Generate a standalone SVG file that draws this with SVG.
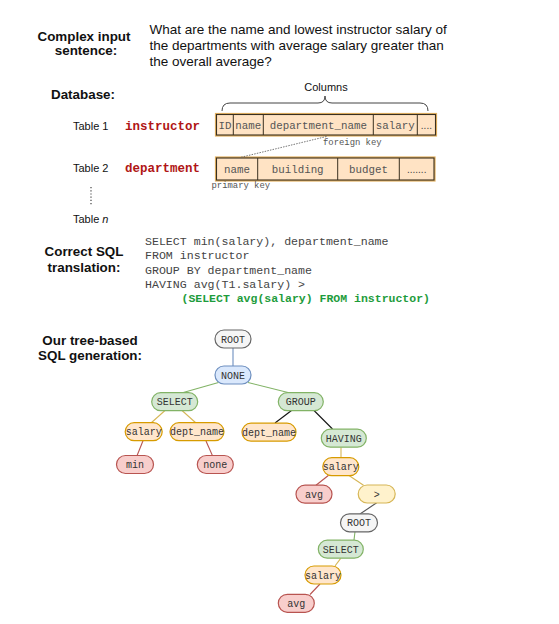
<svg xmlns="http://www.w3.org/2000/svg" width="559" height="624" viewBox="0 0 559 624">
<style>
.h{font-family:"Liberation Sans",Arial,sans-serif;font-weight:bold;font-size:13.4px;fill:#111;text-anchor:middle}
.q{font-family:"Liberation Sans",Arial,sans-serif;font-size:13.5px;fill:#111}
.lbl{font-family:"Liberation Sans",Arial,sans-serif;font-size:11px;fill:#111}
.tn{font-family:"Liberation Mono","Courier New",monospace;font-weight:bold;font-size:12.5px;fill:#b01515}
.col{font-family:"Liberation Mono","Courier New",monospace;font-size:10.8px;fill:#555;text-anchor:middle}
.dots{font-family:"Liberation Sans",Arial,sans-serif;font-size:10px;fill:#444;text-anchor:middle}
.key{font-family:"Liberation Mono","Courier New",monospace;font-size:8.9px;fill:#555}
.code{font-family:"Liberation Mono","Courier New",monospace;font-size:11.6px;fill:#444}
.codeg{font-family:"Liberation Mono","Courier New",monospace;font-size:11.5px;font-weight:bold;fill:#1e9c3c}
.tbl-o{fill:none;stroke:#e2b060;stroke-width:3.2}
.tbl{fill:#ffe3c4;stroke:#3a3020;stroke-width:1.1}
.div{stroke:#3a3020;stroke-width:1}
.n rect{stroke-width:1.2}
.n text{font-family:"Liberation Mono","Courier New",monospace;font-size:10px;fill:#333;text-anchor:middle}
.gray rect{fill:#f5f5f5;stroke:#666}
.blue rect{fill:#dae8fc;stroke:#6c8ebf}
.green rect{fill:#d5e8d4;stroke:#82b366}
.orange rect{fill:#ffe6cc;stroke:#d79b00}
.red rect{fill:#f8cecc;stroke:#b85450}
.yellow rect{fill:#fff2cc;stroke:#d6b656}
#edges line{stroke-width:1.1}
</style>
<rect width="559" height="624" fill="#fff"/>

<g id="headings">
<text class="h" x="84" y="41">Complex input</text>
<text class="h" x="86" y="55">sentence:</text>
<text class="h" x="83" y="98.5">Database:</text>
<text class="h" x="84" y="256">Correct SQL</text>
<text class="h" x="84" y="272">translation:</text>
<text class="h" x="90" y="345">Our tree-based</text>
<text class="h" x="90" y="359.5">SQL generation:</text>
</g>

<g id="question">
<text class="q" x="149.5" y="33.5">What are the name and lowest instructor salary of</text>
<text class="q" x="149.5" y="49.5">the departments with average salary greater than</text>
<text class="q" x="149.5" y="65.5">the overall average?</text>
</g>

<g id="database">
<text class="lbl" x="326" y="91" text-anchor="middle">Columns</text>
<path d="M222,111 Q222,103 230,103 L318,103 Q325,103 325,96 Q325,103 332,103 L420,103 Q428,103 428,111" fill="none" stroke="#444" stroke-width="1"/>
<text class="lbl" x="73" y="129.5">Table 1</text>
<text class="tn" x="125" y="129.5">instructor</text>
<text class="lbl" x="73" y="172">Table 2</text>
<text class="tn" x="125" y="172">department</text>
<line x1="91" y1="187" x2="91" y2="206" stroke="#444" stroke-width="1.2" stroke-dasharray="1.2,2"/>
<text class="lbl" x="73" y="223">Table <tspan font-style="italic">n</tspan></text>

<g id="table1">
<rect class="tbl-o" x="216.5" y="114.5" width="219" height="20.5"/>
<rect class="tbl" x="216.5" y="114.5" width="219" height="20.5"/>
<line class="div" x1="233.3" y1="114.5" x2="233.3" y2="135"/>
<line class="div" x1="263.3" y1="114.5" x2="263.3" y2="135"/>
<line class="div" x1="373.3" y1="114.5" x2="373.3" y2="135"/>
<line class="div" x1="417.3" y1="114.5" x2="417.3" y2="135"/>
<text class="col" x="225" y="128.5">ID</text>
<text class="col" x="248.3" y="128.5">name</text>
<text class="col" x="318.3" y="128.5">department_name</text>
<text class="col" x="395.3" y="128.5">salary</text>
<text class="dots" x="426.4" y="128.5">....</text>
</g>
<g id="table2">
<rect class="tbl-o" x="216.5" y="158" width="217.5" height="22"/>
<rect class="tbl" x="216.5" y="158" width="217.5" height="22"/>
<line class="div" x1="257.7" y1="158" x2="257.7" y2="180"/>
<line class="div" x1="337.7" y1="158" x2="337.7" y2="180"/>
<line class="div" x1="399.3" y1="158" x2="399.3" y2="180"/>
<text class="col" x="237" y="172.5">name</text>
<text class="col" x="297.7" y="172.5">building</text>
<text class="col" x="368.5" y="172.5">budget</text>
<text class="dots" x="416.7" y="172.5">.......</text>
</g>
<line x1="326.5" y1="136.5" x2="240" y2="157.5" stroke="#666" stroke-width="0.9" stroke-dasharray="1.5,1.2"/>
<text class="key" x="323" y="144.5">foreign key</text>
<text class="key" x="211.5" y="188">primary key</text>
</g>

<g id="sql">
<text class="code" x="145" y="244.5" xml:space="preserve">SELECT min(salary), department_name</text>
<text class="code" x="145" y="259">FROM instructor</text>
<text class="code" x="145" y="273.5">GROUP BY department_name</text>
<text class="code" x="145" y="287.7">HAVING avg(T1.salary) &gt;</text>
<text class="codeg" x="181.5" y="301.7">(SELECT avg(salary) FROM instructor)</text>
</g>

<g id="edges">
<line x1="233" y1="348" x2="233" y2="366" stroke="#6c8ebf"/>
<line x1="218.5" y1="382.5" x2="181.5" y2="393" stroke="#82b366"/>
<line x1="248" y1="382.5" x2="290" y2="393" stroke="#82b366"/>
<line x1="165" y1="410.5" x2="151" y2="423" stroke="#d6b656"/>
<line x1="182" y1="410.5" x2="196" y2="423" stroke="#d6b656"/>
<line x1="291.5" y1="410.5" x2="275" y2="423" stroke="#111"/>
<line x1="314" y1="410.5" x2="332.5" y2="429" stroke="#111"/>
<line x1="143" y1="440.7" x2="137" y2="455.7" stroke="#b85450"/>
<line x1="206" y1="441" x2="212.5" y2="455.7" stroke="#b85450"/>
<line x1="341" y1="447.3" x2="341" y2="457.7" stroke="#d6b656"/>
<line x1="328.3" y1="475.5" x2="316" y2="485.3" stroke="#b85450"/>
<line x1="349" y1="475.5" x2="363.5" y2="485.3" stroke="#d6b656"/>
<line x1="376.7" y1="502.8" x2="360" y2="514" stroke="#555"/>
<line x1="355" y1="531.7" x2="354" y2="540" stroke="#82b366"/>
<line x1="340.7" y1="558.3" x2="335" y2="566" stroke="#d6b656"/>
<line x1="320" y1="584" x2="310" y2="594.5" stroke="#b85450"/>
</g>

<g id="root1" class="n gray"><rect x="215" y="330" width="36" height="18" rx="9"/><text x="233" y="342.5">ROOT</text></g>
<g id="none1" class="n blue"><rect x="215" y="366" width="36" height="18" rx="9"/><text x="233" y="378.5">NONE</text></g>
<g id="select1" class="n green"><rect x="151.7" y="392.7" width="46" height="18" rx="9"/><text x="174.7" y="405.2">SELECT</text></g>
<g id="group" class="n green"><rect x="278.3" y="392.7" width="45" height="18" rx="9"/><text x="300.8" y="405.2">GROUP</text></g>
<g id="salary1" class="n orange"><rect x="125.2" y="422.7" width="37" height="18" rx="9"/><text x="143.7" y="435.2">salary</text></g>
<g id="dept1" class="n orange"><rect x="170" y="422.7" width="54" height="18" rx="9"/><text x="197" y="435.2">dept_name</text></g>
<g id="dept2" class="n orange"><rect x="242" y="423.2" width="54" height="18" rx="9"/><text x="269" y="435.7">dept_name</text></g>
<g id="having" class="n green"><rect x="321.3" y="429.2" width="45" height="18" rx="9"/><text x="343.8" y="441.7">HAVING</text></g>
<g id="min" class="n red"><rect x="116.5" y="455.5" width="37" height="18" rx="9"/><text x="135" y="468">min</text></g>
<g id="none2" class="n red"><rect x="197.3" y="455.5" width="36" height="18" rx="9"/><text x="215.3" y="468">none</text></g>
<g id="salary2" class="n orange"><rect x="322.8" y="457.7" width="36" height="18" rx="9"/><text x="340.8" y="470.2">salary</text></g>
<g id="avg1" class="n red"><rect x="296" y="485.2" width="36" height="18" rx="9"/><text x="314" y="497.7">avg</text></g>
<g id="gt" class="n yellow"><rect x="358.2" y="485" width="37" height="18" rx="9"/><text x="376.7" y="497.5">&gt;</text></g>
<g id="root2" class="n gray"><rect x="340.5" y="513.8" width="37" height="18" rx="9"/><text x="359" y="526.3">ROOT</text></g>
<g id="select2" class="n green"><rect x="318.3" y="540.2" width="45" height="18" rx="9"/><text x="340.8" y="552.7">SELECT</text></g>
<g id="salary3" class="n orange"><rect x="305" y="566" width="36" height="18" rx="9"/><text x="323" y="578.5">salary</text></g>
<g id="avg2" class="n red"><rect x="278.3" y="594.3" width="36" height="18" rx="9"/><text x="296.3" y="606.8">avg</text></g>
</svg>
